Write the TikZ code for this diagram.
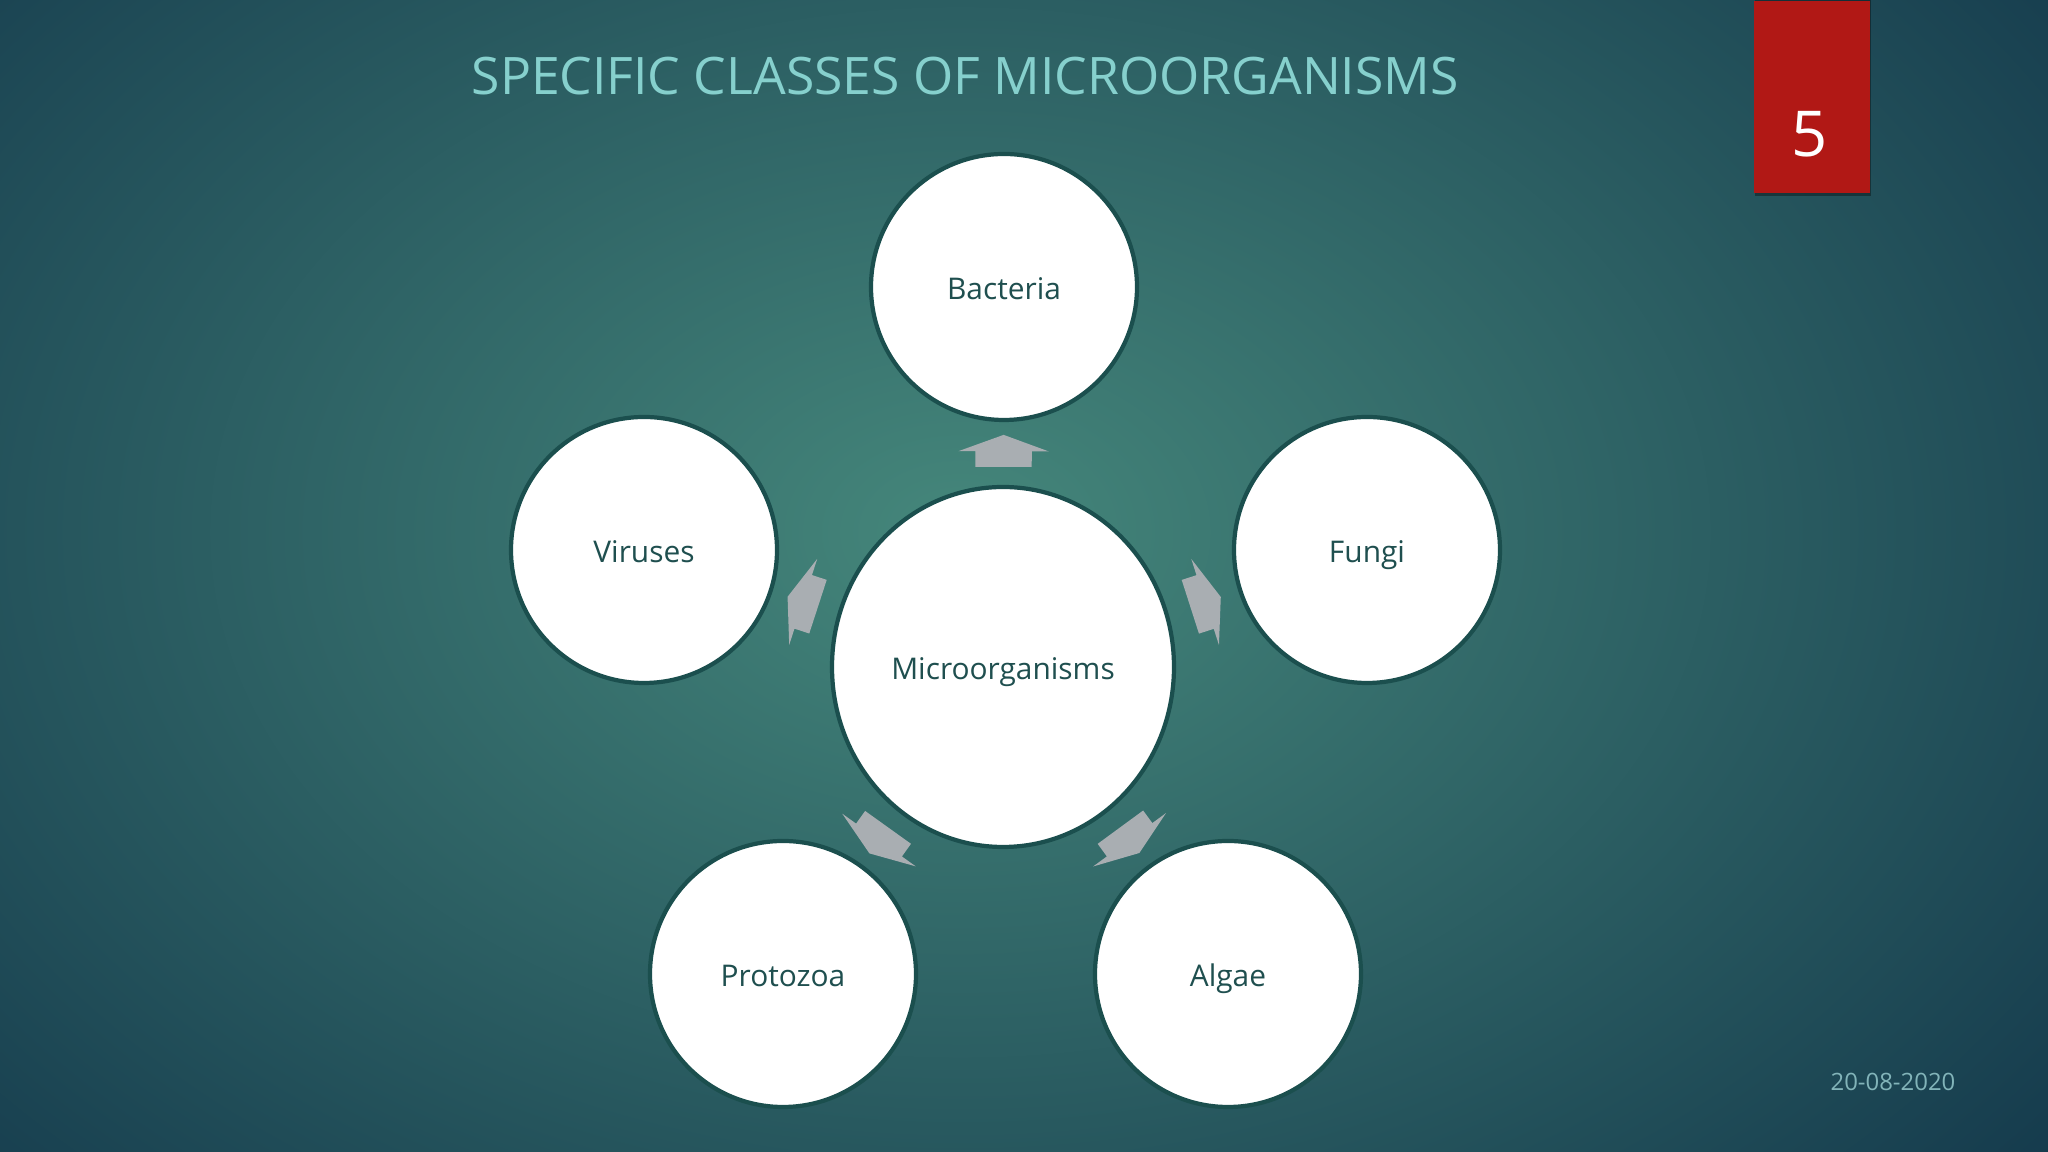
\documentclass[tikz,border=0pt]{standalone}
\usepackage{fontspec}
\setmainfont{Open Sans}
\usetikzlibrary{shapes.geometric,shapes.arrows}
\definecolor{bgin}{HTML}{45877B}
\definecolor{bgout}{HTML}{12364A}
\definecolor{ringline}{HTML}{1B4F4E}
\definecolor{labeltext}{HTML}{1F4F4F}
\definecolor{arrowgray}{HTML}{A9AEB2}
\definecolor{titlecyan}{HTML}{86D0CD}
\definecolor{pagered}{HTML}{B11815}
\definecolor{datecyan}{HTML}{82B4B9}

\begin{document}
\begin{tikzpicture}[
  bubble/.style={circle,draw=ringline,line width=1.2pt,fill=white,minimum size=2.66cm,inner sep=0pt,text=labeltext,text height=0.714em,text depth=0pt,font=\fontsize{8.5}{10}\selectfont},
  hub/.style={bubble,ellipse,minimum width=3.42cm,minimum height=3.60cm},
  blockarrow/.style={single arrow,fill=arrowgray,draw=none,minimum height=0.32cm,inner xsep=0pt,inner ysep=0.275cm,single arrow head extend=0.17cm,single arrow tip angle=140,sloped,allow upside down,pos=0.46}]
\useasboundingbox (0,0) rectangle (20.48,11.52);
\begin{scope}
\clip (0,0) rectangle (20.48,11.52);
\shade [inner color=bgin,outer color=bgout] (-5.4,-4.3) rectangle (24.6,16.7);
\end{scope}

\fill [black,opacity=0.35] (17.55,9.56) rectangle (18.71,11.52);
\node [fill=pagered,minimum width=1.16cm,minimum height=1.92cm,inner sep=0pt,anchor=north west] (pagebox) at (17.53,11.52) {};
\node [text=white,font=\fontsize{18}{20}\selectfont,inner sep=0pt,anchor=base] (pagenum) at (18.10,9.95) {5};

\node [text=titlecyan,font=\fontsize{14.7}{18}\selectfont,inner sep=0pt,anchor=base west] (title) at (4.71,10.57) {SPECIFIC CLASSES OF MICROORGANISMS};

\node [hub] (micro) at (10.03,4.85) {Microorganisms};
\node [bubble] (bact) at (10.04,8.65) {Bacteria};
\node [bubble] (fungi) at (13.67,6.02) {Fungi};
\node [bubble] (algae) at (12.28,1.78) {Algae};
\node [bubble] (proto) at (7.83,1.78) {Protozoa};
\node [bubble] (virus) at (6.44,6.02) {Viruses};

\path (micro) -- node [blockarrow] (arrbact) {} (bact);
\path (micro) -- node [blockarrow] (arrfungi) {} (fungi);
\path (micro) -- node [blockarrow] (arralgae) {} (algae);
\path (micro) -- node [blockarrow] (arrproto) {} (proto);
\path (micro) -- node [blockarrow] (arrvirus) {} (virus);

\node [text=datecyan,font=\fontsize{6.8}{9}\selectfont,inner sep=0pt,anchor=base east] (date) at (19.56,0.61) {20-08-2020};
\end{tikzpicture}
\end{document}
